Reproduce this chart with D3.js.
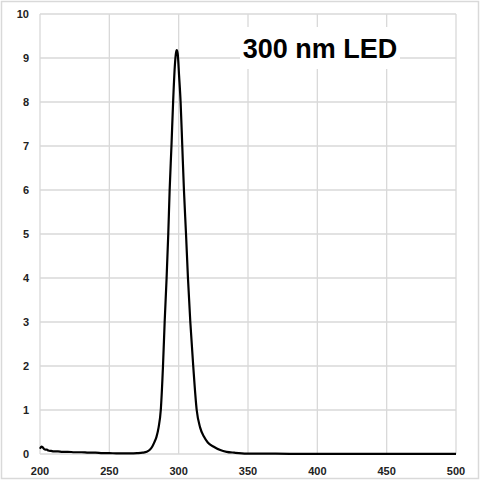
<!DOCTYPE html>
<html>
<head>
<meta charset="utf-8">
<script src="https://cdn.jsdelivr.net/npm/d3@7"></script>
<style>
  body { margin: 0; background: #fff; }
  svg { display: block; }
  text { font-family: "Liberation Sans", Arial, sans-serif; }
</style>
</head>
<body>
<svg id="chart"></svg>
<script>
// Wavelength (nm) and intensity
const wavelengths = [200, 201, 202, 203, 204, 205, 206, 208, 210, 213, 216, 220, 225, 230, 235, 240, 245, 250,
  255, 260, 265, 270, 274, 277, 279, 281, 282.5, 284, 285.5, 287.1, 288.7, 289.9, 291.3, 292.5,
  293.5, 294.8, 296.0, 297.2, 298, 298.6, 299.3, 300.3, 301.4, 302.6, 303.8, 305.3, 306.7, 308.4,
  310.5, 313, 315.5, 318.3, 321, 325, 330, 334.6, 340, 349, 360, 380, 400, 450, 500];
const intensity = [0.12, 0.17, 0.15, 0.11, 0.10, 0.10, 0.08, 0.07, 0.06, 0.06, 0.05, 0.05, 0.04, 0.04, 0.03, 0.03, 0.02, 0.02,
  0.015, 0.015, 0.015, 0.02, 0.03, 0.05, 0.09, 0.17, 0.27, 0.39, 0.6, 1.0, 2.0, 3.0, 4.0, 5.0,
  6.0, 7.0, 8.0, 8.8, 9.1, 9.18, 9.1, 8.6, 8.0, 7.0, 6.0, 5.0, 4.0, 3.0,
  2.0, 1.0, 0.6, 0.39, 0.26, 0.17, 0.09, 0.05, 0.03, 0.01, 0.01, 0.005, 0.005, 0.003, 0.003];

const xTicks = [200, 250, 300, 350, 400, 450, 500];
const yTicks = [0, 1, 2, 3, 4, 5, 6, 7, 8, 9, 10];
const title = "300 nm LED";

const data = wavelengths.map((w, i) => ({ w: w, v: intensity[i] }));

const width = 480;
const height = 480;
const margin = { top: 14, right: 24, bottom: 26, left: 40 };

const svg = d3.select("#chart")
  .attr("width", width)
  .attr("height", height);

// outer frame
svg.append("rect")
  .attr("x", 1.5).attr("y", 1.5)
  .attr("width", width - 3).attr("height", height - 3)
  .attr("fill", "#fff")
  .attr("stroke", "#d9d9d9")
  .attr("stroke-width", 1.5);

const x = d3.scaleLinear()
  .domain([200, 500])
  .range([margin.left, width - margin.right]);

const y = d3.scaleLinear()
  .domain([0, 10])
  .range([height - margin.bottom, margin.top]);

// gridlines
svg.append("g")
  .selectAll("line.vgrid")
  .data(xTicks)
  .enter()
  .append("line")
  .attr("x1", d => x(d)).attr("x2", d => x(d))
  .attr("y1", y(0)).attr("y2", y(10))
  .attr("stroke", "#d9d9d9")
  .attr("stroke-width", 1.3);

svg.append("g")
  .selectAll("line.hgrid")
  .data(yTicks)
  .enter()
  .append("line")
  .attr("x1", x(200)).attr("x2", x(500))
  .attr("y1", d => y(d)).attr("y2", d => y(d))
  .attr("stroke", "#d9d9d9")
  .attr("stroke-width", 1.3);

// title with white box behind it
svg.append("rect")
  .attr("x", 240).attr("y", 27)
  .attr("width", 160).attr("height", 42)
  .attr("fill", "#fff");

svg.append("text")
  .attr("x", 320)
  .attr("y", 58)
  .attr("text-anchor", "middle")
  .style("font-size", "27px")
  .style("font-weight", "bold")
  .attr("fill", "#000")
  .text(title);

// spectrum line
const line = d3.line()
  .x(d => x(d.w))
  .y(d => y(d.v))
  .curve(d3.curveMonotoneX);

svg.append("path")
  .datum(data)
  .attr("d", line)
  .attr("fill", "none")
  .attr("stroke", "#000")
  .attr("stroke-width", 2.2)
  .attr("stroke-linejoin", "round");

// tick labels
svg.append("g")
  .selectAll("text")
  .data(yTicks)
  .enter()
  .append("text")
  .attr("x", 29)
  .attr("y", d => y(d))
  .attr("dy", "0.36em")
  .attr("text-anchor", "end")
  .style("font-size", "11px")
  .style("font-weight", "bold")
  .attr("fill", "#222")
  .text(d => d);

svg.append("g")
  .selectAll("text")
  .data(xTicks)
  .enter()
  .append("text")
  .attr("x", d => x(d))
  .attr("y", 471)
  .attr("dy", "0.36em")
  .attr("text-anchor", "middle")
  .style("font-size", "11px")
  .style("font-weight", "bold")
  .attr("fill", "#222")
  .text(d => d);
</script>
</body>
</html>
